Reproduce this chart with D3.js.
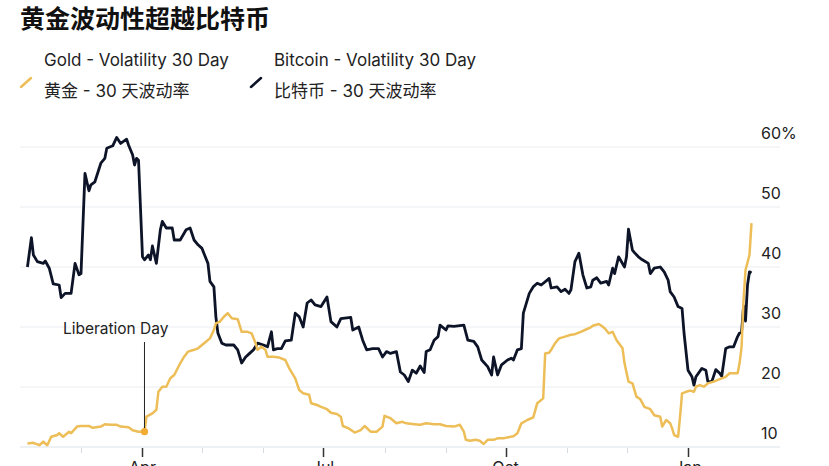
<!DOCTYPE html>
<html>
<head>
<meta charset="utf-8">
<script src="https://cdn.jsdelivr.net/npm/d3@7"></script>
<style>
  html, body { margin: 0; padding: 0; background: #fff; }
  svg { display: block; }
  text { font-family: Inter, "Noto Sans CJK SC", sans-serif; }
</style>
</head>
<body>
<svg id="chart" width="829" height="466"></svg>
<script>
// ---------- DATA ----------
const titleText = "黄金波动性超越比特币";
const legendGoldLines = ["Gold - Volatility 30 Day", "黄金 - 30 天波动率"];
const legendBtcLines = ["Bitcoin - Volatility 30 Day", "比特币 - 30 天波动率"];
const yTicks = [10, 20, 30, 40, 50, 60];
const majorMonthTicks = ["2025-04-01", "2025-07-01", "2025-10-01", "2026-01-01"];
const majorMonthLabels = ["Apr", "Jul", "Oct", "Jan"];
const annotationDate = "2025-04-02";
const annotationLabel = "Liberation Day";

const btcDates = [
"2025-02-02","2025-02-04","2025-02-05","2025-02-07","2025-02-10","2025-02-11","2025-02-13","2025-02-15","2025-02-18","2025-02-19",
"2025-02-21","2025-02-24","2025-02-26","2025-02-28","2025-03-01","2025-03-03","2025-03-05","2025-03-06","2025-03-08","2025-03-11",
"2025-03-13","2025-03-14","2025-03-17","2025-03-19","2025-03-21","2025-03-24","2025-03-25","2025-03-27","2025-03-28","2025-03-29",
"2025-03-30","2025-04-01","2025-04-02","2025-04-04","2025-04-05","2025-04-06","2025-04-08","2025-04-10","2025-04-11","2025-04-13",
"2025-04-16","2025-04-17","2025-04-20","2025-04-23","2025-04-25","2025-04-27","2025-04-29","2025-05-01","2025-05-03","2025-05-04",
"2025-05-05","2025-05-07","2025-05-08","2025-05-09","2025-05-11","2025-05-13","2025-05-17","2025-05-19","2025-05-21","2025-05-23",
"2025-05-25","2025-05-27","2025-05-29","2025-06-01","2025-06-03","2025-06-05","2025-06-06","2025-06-08","2025-06-10","2025-06-12",
"2025-06-15","2025-06-17","2025-06-19","2025-06-21","2025-06-23","2025-06-25","2025-06-27","2025-06-30","2025-07-03","2025-07-05",
"2025-07-08","2025-07-10","2025-07-15","2025-07-16","2025-07-19","2025-07-21","2025-07-23","2025-07-26","2025-07-29","2025-07-31",
"2025-08-02","2025-08-04","2025-08-07","2025-08-09","2025-08-11","2025-08-13","2025-08-15","2025-08-17","2025-08-19","2025-08-21",
"2025-08-22","2025-08-24","2025-08-26","2025-08-28","2025-08-29","2025-09-01","2025-09-02","2025-09-05","2025-09-10","2025-09-12",
"2025-09-15","2025-09-17","2025-09-19","2025-09-22","2025-09-24","2025-09-25","2025-09-27","2025-09-29","2025-10-02","2025-10-04",
"2025-10-05","2025-10-07","2025-10-09","2025-10-10","2025-10-13","2025-10-15","2025-10-17","2025-10-19","2025-10-22","2025-10-23",
"2025-10-24","2025-10-27","2025-10-29","2025-10-31","2025-11-02","2025-11-03","2025-11-05","2025-11-07","2025-11-09","2025-11-11",
"2025-11-13","2025-11-14","2025-11-16","2025-11-18","2025-11-21","2025-11-22","2025-11-24","2025-11-25","2025-11-27","2025-11-30",
"2025-12-01","2025-12-02","2025-12-04","2025-12-05","2025-12-07","2025-12-09","2025-12-12","2025-12-13","2025-12-15","2025-12-18",
"2025-12-20","2025-12-22","2025-12-23","2025-12-25","2025-12-27","2025-12-29","2025-12-30","2026-01-01","2026-01-03","2026-01-04",
"2026-01-05","2026-01-08","2026-01-10","2026-01-11","2026-01-13","2026-01-15","2026-01-17","2026-01-18","2026-01-20","2026-01-22",
"2026-01-24","2026-01-26","2026-01-27","2026-01-28","2026-01-29","2026-01-30","2026-01-31","2026-02-01","2026-02-02"];
const btcValues = [
40.0,44.9,42.0,40.9,40.6,41.0,39.8,37.2,37.0,34.9,
35.6,35.6,40.6,38.7,38.9,55.6,52.7,53.7,54.2,57.3,
58.1,59.8,60.2,61.6,60.6,61.3,60.3,58.7,57.0,58.1,
57.8,41.7,41.2,42.0,41.2,43.5,40.6,46.2,47.6,46.5,
46.5,44.5,44.5,46.2,46.5,44.5,43.7,43.1,41.4,40.6,
37.6,36.7,31.7,29.0,27.3,27.0,27.0,26.2,24.0,25.0,
25.6,26.2,27.3,27.0,26.7,29.2,26.2,26.4,26.4,27.7,
27.8,32.3,31.7,30.0,34.0,34.5,33.7,33.4,35.0,30.9,
30.0,31.4,31.6,29.5,30.0,27.8,26.2,26.4,26.4,25.0,
25.9,25.6,25.9,22.5,22.0,20.9,22.8,22.3,23.5,22.4,
25.9,26.2,27.8,28.4,30.3,29.5,30.2,30.1,30.3,27.8,
27.6,26.7,24.5,23.4,22.0,25.0,22.0,23.7,24.5,24.8,
24.5,26.2,26.4,32.3,35.6,36.7,37.3,37.0,37.8,38.1,
36.5,36.7,35.9,36.3,35.6,36.2,40.9,42.3,38.7,36.5,
36.7,37.8,38.2,37.3,37.6,37.0,39.8,38.9,41.7,40.0,
41.7,46.3,42.8,42.4,41.7,41.2,40.6,38.9,39.8,40.0,
39.2,37.8,35.9,35.0,33.4,33.1,29.0,22.8,21.7,20.3,
21.7,23.1,22.8,20.9,20.9,22.9,22.3,21.8,26.4,26.7,
26.7,28.4,29.0,29.1,33.5,31.0,37.0,39.2,39.0];

const goldDates = [
"2025-02-02","2025-02-05","2025-02-08","2025-02-10","2025-02-12","2025-02-14","2025-02-17","2025-02-18","2025-02-20","2025-02-23",
"2025-02-24","2025-02-27","2025-03-01","2025-03-05","2025-03-07","2025-03-11","2025-03-13","2025-03-16","2025-03-19","2025-03-21",
"2025-03-25","2025-03-27","2025-03-30","2025-04-02","2025-04-03","2025-04-06","2025-04-08","2025-04-09","2025-04-11","2025-04-13",
"2025-04-15","2025-04-17","2025-04-20","2025-04-22","2025-04-24","2025-04-27","2025-04-29","2025-05-01","2025-05-03","2025-05-05",
"2025-05-07","2025-05-08","2025-05-10","2025-05-12","2025-05-14","2025-05-16","2025-05-19","2025-05-21","2025-05-24","2025-05-26",
"2025-05-28","2025-05-29","2025-05-31","2025-06-02","2025-06-03","2025-06-06","2025-06-09","2025-06-12","2025-06-14","2025-06-17",
"2025-06-19","2025-06-21","2025-06-24","2025-06-25","2025-06-28","2025-06-30","2025-07-03","2025-07-05","2025-07-08","2025-07-10",
"2025-07-11","2025-07-14","2025-07-17","2025-07-20","2025-07-22","2025-07-25","2025-07-28","2025-07-31","2025-08-01","2025-08-04",
"2025-08-07","2025-08-10","2025-08-12","2025-08-16","2025-08-19","2025-08-22","2025-08-26","2025-08-29","2025-09-01","2025-09-05",
"2025-09-08","2025-09-10","2025-09-11","2025-09-13","2025-09-16","2025-09-18","2025-09-20","2025-09-22","2025-09-25","2025-09-27",
"2025-09-30","2025-10-02","2025-10-05","2025-10-07","2025-10-09","2025-10-12","2025-10-15","2025-10-17","2025-10-20","2025-10-21",
"2025-10-23","2025-10-24","2025-10-26","2025-10-28","2025-10-31","2025-11-03","2025-11-05","2025-11-08","2025-11-10","2025-11-13",
"2025-11-14","2025-11-17","2025-11-18","2025-11-20","2025-11-22","2025-11-24","2025-11-26","2025-11-29","2025-11-30","2025-12-02",
"2025-12-04","2025-12-06","2025-12-08","2025-12-10","2025-12-13","2025-12-15","2025-12-18","2025-12-19","2025-12-21","2025-12-23",
"2025-12-24","2025-12-25","2025-12-27","2025-12-28","2025-12-29","2025-12-31","2026-01-02","2026-01-04","2026-01-05","2026-01-07",
"2026-01-09","2026-01-11","2026-01-14","2026-01-17","2026-01-20","2026-01-22","2026-01-26","2026-01-27","2026-01-28","2026-01-29",
"2026-01-30","2026-02-01","2026-02-02"];
const goldValues = [
10.6,10.7,10.3,10.9,10.3,11.7,12.0,12.3,11.7,12.55,
12.3,13.4,13.5,13.5,13.2,13.4,13.8,13.7,13.7,13.4,
13.3,12.8,12.55,12.55,15.05,15.6,16.2,19.2,20.05,20.05,
21.45,22.0,23.95,25.05,25.9,26.2,26.45,27.0,27.55,28.1,
29.5,30.6,30.9,31.7,32.3,31.45,31.3,29.2,29.2,28.95,
27.3,26.2,26.7,26.2,25.05,25.05,24.9,24.5,23.1,21.45,
19.5,18.95,18.7,17.3,17.0,16.7,16.3,15.7,15.5,15.05,
13.5,13.1,12.4,12.8,13.5,12.55,12.55,13.4,15.2,14.8,
13.95,14.2,13.95,13.8,13.7,13.95,13.8,13.8,13.5,13.4,
13.7,12.55,11.2,11.05,11.2,11.05,10.5,11.2,11.2,11.45,
11.45,11.6,11.8,12.3,13.95,14.5,14.95,17.3,18.1,25.6,
25.7,26.2,27.3,28.1,28.4,28.7,28.8,29.2,29.5,29.95,
30.2,30.5,30.3,29.8,28.95,29.2,27.8,26.45,23.95,20.9,
20.6,18.4,17.95,16.7,16.3,15.3,15.05,13.4,14.5,13.95,
13.1,12.0,11.7,15.05,18.95,19.2,19.4,19.2,20.05,20.3,
20.05,20.6,20.9,21.3,21.7,22.3,22.3,23.95,26.7,34.5,
39.5,42.0,47.3];

// ---------- CHART ----------
const parse = d3.timeParse("%Y-%m-%d");
const GOLD = "#EDBE58";
const GOLD_DOT = "#F3AC33";
const BTC = "#0D1428";
const TEXT = "#222222";

const svg = d3.select("#chart");

const x = d3.scaleTime()
  .domain([parse("2025-03-01"), parse("2026-01-01")])
  .range([81, 688]);
const y = d3.scaleLinear().domain([10, 60]).range([447, 147]);

const gridLeft = 20, gridRight = 780;

// Title
svg.append("text")
  .attr("x", 20).attr("y", 28)
  .attr("font-size", 25).attr("font-weight", 700)
  .attr("fill", "#111")
  .style("font-family", "'Noto Sans CJK SC', sans-serif")
  .text(titleText);

// Legend
function legendItem(x0, iconColor, lines) {
  const g = svg.append("g");
  g.append("line")
    .attr("x1", x0).attr("y1", 87).attr("x2", x0 + 10).attr("y2", 78)
    .attr("stroke", iconColor).attr("stroke-width", 2.5).attr("stroke-linecap", "round");
  g.append("text").attr("x", x0 + 23).attr("y", 66)
    .attr("font-size", 17).attr("fill", TEXT).text(lines[0]);
  g.append("text").attr("x", x0 + 23).attr("y", 97)
    .attr("font-size", 17).attr("fill", TEXT)
    .text(lines[1]);
}
legendItem(21, GOLD, legendGoldLines);
legendItem(251, BTC, legendBtcLines);

// Gridlines
svg.append("g").selectAll("line")
  .data(yTicks)
  .join("line")
  .attr("x1", gridLeft).attr("x2", gridRight)
  .attr("y1", d => y(d)).attr("y2", d => y(d))
  .attr("stroke", d => d === 10 ? "#dde3e8" : "#e9edf0")
  .attr("stroke-width", 1);

// Y labels (right side, above gridlines)
svg.append("g").selectAll("text")
  .data(yTicks)
  .join("text")
  .attr("x", 761)
  .attr("y", d => y(d) - 8)
  .attr("font-size", 16)
  .attr("fill", TEXT)
  .text(d => d === 60 ? d + "%" : d);

// X axis ticks
const allMonths = d3.timeMonth.range(parse("2025-03-01"), parse("2026-01-02"));
const majorSet = new Set(majorMonthTicks);
const fmt = d3.timeFormat("%Y-%m-%d");
svg.append("g").selectAll("line")
  .data(allMonths)
  .join("line")
  .attr("x1", d => Math.round(x(d)) + 0.5).attr("x2", d => Math.round(x(d)) + 0.5)
  .attr("y1", 448)
  .attr("y2", d => majorSet.has(fmt(d)) ? 457 : 453)
  .attr("stroke", d => majorSet.has(fmt(d)) ? "#333" : "#d5dbe0")
  .attr("stroke-width", d => majorSet.has(fmt(d)) ? 1.5 : 1);

svg.append("g").selectAll("text")
  .data(majorMonthTicks)
  .join("text")
  .attr("x", d => x(parse(d)))
  .attr("y", 473)
  .attr("text-anchor", "middle")
  .attr("font-size", 16)
  .attr("fill", TEXT)
  .text((d, i) => majorMonthLabels[i]);

// Lines
const btcData = btcDates.map((d, i) => ({ date: parse(d), value: btcValues[i] }));
const goldData = goldDates.map((d, i) => ({ date: parse(d), value: goldValues[i] }));
const line = d3.line().x(d => x(d.date)).y(d => y(d.value)).curve(d3.curveLinear);

svg.append("path").datum(btcData)
  .attr("d", line).attr("fill", "none")
  .attr("stroke", BTC).attr("stroke-width", 2.8)
  .attr("stroke-linejoin", "round");

svg.append("path").datum(goldData)
  .attr("d", line).attr("fill", "none")
  .attr("stroke", GOLD).attr("stroke-width", 2.5)
  .attr("stroke-linejoin", "round");

// Annotation
const annIdx = goldDates.indexOf(annotationDate);
const ax = x(parse(annotationDate));
const ay = y(goldValues[annIdx]);
svg.append("line")
  .attr("x1", ax).attr("x2", ax)
  .attr("y1", 342).attr("y2", ay)
  .attr("stroke", "#222").attr("stroke-width", 1);
svg.append("circle")
  .attr("cx", ax).attr("cy", ay).attr("r", 3.6)
  .attr("fill", GOLD_DOT);
svg.append("text")
  .attr("x", ax + 24).attr("y", 334)
  .attr("text-anchor", "end")
  .attr("font-size", 15.5)
  .attr("fill", TEXT)
  .text(annotationLabel);
</script>
</body>
</html>
